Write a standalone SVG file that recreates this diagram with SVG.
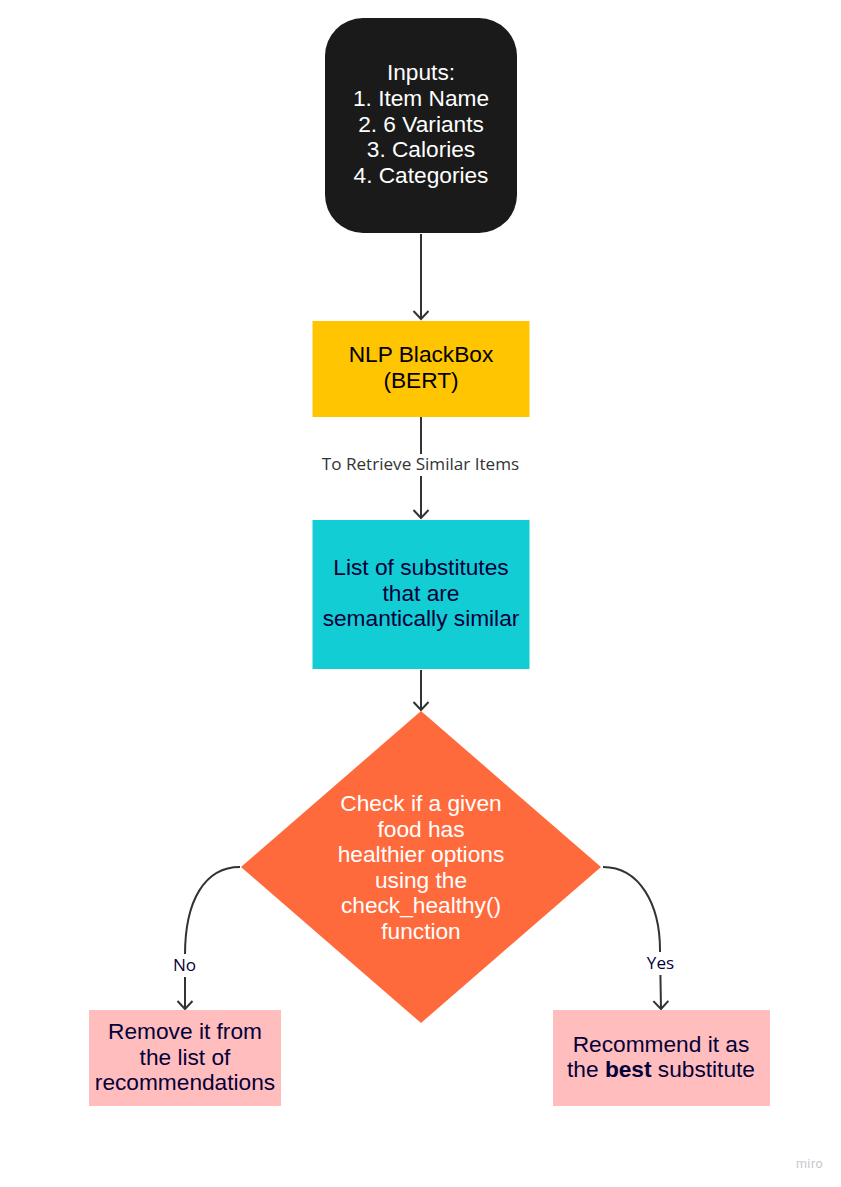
<svg xmlns="http://www.w3.org/2000/svg" width="841" height="1187" viewBox="0 0 841 1187">
<style>
.t{font-family:"Liberation Sans",Arial,sans-serif;font-size:22.7px;text-anchor:middle}
.w{fill:#fff}.k{fill:#050038}.b{fill:#000}
.l{font-family:"Open Sans","Noto Sans",sans-serif;font-size:17.1px;text-anchor:middle}
.c{fill:none;stroke:#333;stroke-width:2}
</style>
<defs>
<marker id="a" markerUnits="userSpaceOnUse" markerWidth="20" markerHeight="18" refX="15" refY="9" orient="auto"><path d="M7 1.500L15 9L7 16.500" fill="none" stroke="#333" stroke-width="2"/></marker>
</defs>
<rect width="841" height="1187" fill="#fff"/>
<g id="connectors">
<path class="c" d="M421 234V319" marker-end="url(#a)"/>
<path class="c" d="M421 417V518" marker-end="url(#a)"/>
<path class="c" d="M421 670V710" marker-end="url(#a)"/>
<path class="c" d="M240 867C205 867 185 900 185 955V1009" marker-end="url(#a)"/>
<path class="c" d="M603 867C640 867 660 905 660 950L661 1009" marker-end="url(#a)"/>
</g>
<g id="edge-label-1"><rect x="318" y="454" width="205" height="22" fill="#fff"/><text class="l" x="420.500" y="470" fill="#333">To Retrieve Similar Items</text></g>
<g id="edge-label-no"><rect x="170" y="954" width="30" height="23" fill="#fff"/><text class="l" x="184.500" y="971" fill="#050038">No</text></g>
<g id="edge-label-yes"><rect x="642" y="952" width="38" height="23" fill="#fff"/><text class="l" x="660.500" y="969" fill="#050038">Yes</text></g>
<g id="inputs"><rect x="325" y="18" width="192" height="215" rx="38" fill="#1a1a1a"/>
<text class="t w" x="421"><tspan x="421" y="80">Inputs:</tspan><tspan x="421" y="106">1. Item Name</tspan><tspan x="421" y="131.500">2. 6 Variants</tspan><tspan x="421" y="157">3. Calories</tspan><tspan x="421" y="182.500">4. Categories</tspan></text></g>
<g id="nlp"><rect x="312.500" y="321" width="217" height="96" fill="#fec500"/>
<text class="t b"><tspan x="421" y="362">NLP BlackBox</tspan><tspan x="421" y="388">(BERT)</tspan></text></g>
<g id="list"><rect x="312.500" y="520" width="217" height="149" fill="#12cdd4"/>
<text class="t k"><tspan x="421" y="575">List of substitutes</tspan><tspan x="421" y="600.500">that are</tspan><tspan x="421" y="626">semantically similar</tspan></text></g>
<g id="check"><path d="M421 711L601 867L421 1023L241 867Z" fill="#ff6a3d"/>
<text class="t w"><tspan x="421" y="811">Check if a given</tspan><tspan x="421" y="836.500">food has</tspan><tspan x="421" y="862">healthier options</tspan><tspan x="421" y="887.500">using the</tspan><tspan x="421" y="913">check_healthy()</tspan><tspan x="421" y="938.500">function</tspan></text></g>
<g id="remove"><rect x="89" y="1010" width="192" height="96" fill="#ffbdbe"/>
<text class="t k"><tspan x="185" y="1039">Remove it from</tspan><tspan x="185" y="1064.500">the list of</tspan><tspan x="185" y="1090">recommendations</tspan></text></g>
<g id="recommend"><rect x="553" y="1010" width="217" height="96" fill="#ffbdbe"/>
<text class="t k"><tspan x="661" y="1052">Recommend it as</tspan><tspan x="661" y="1077">the <tspan font-weight="700">best</tspan> substitute</tspan></text></g>
<text x="809.500" y="1168" font-family="Roboto,'Open Sans',sans-serif" font-size="12.500" letter-spacing="0.500" text-anchor="middle" fill="#c5c7d0">miro</text>
</svg>
